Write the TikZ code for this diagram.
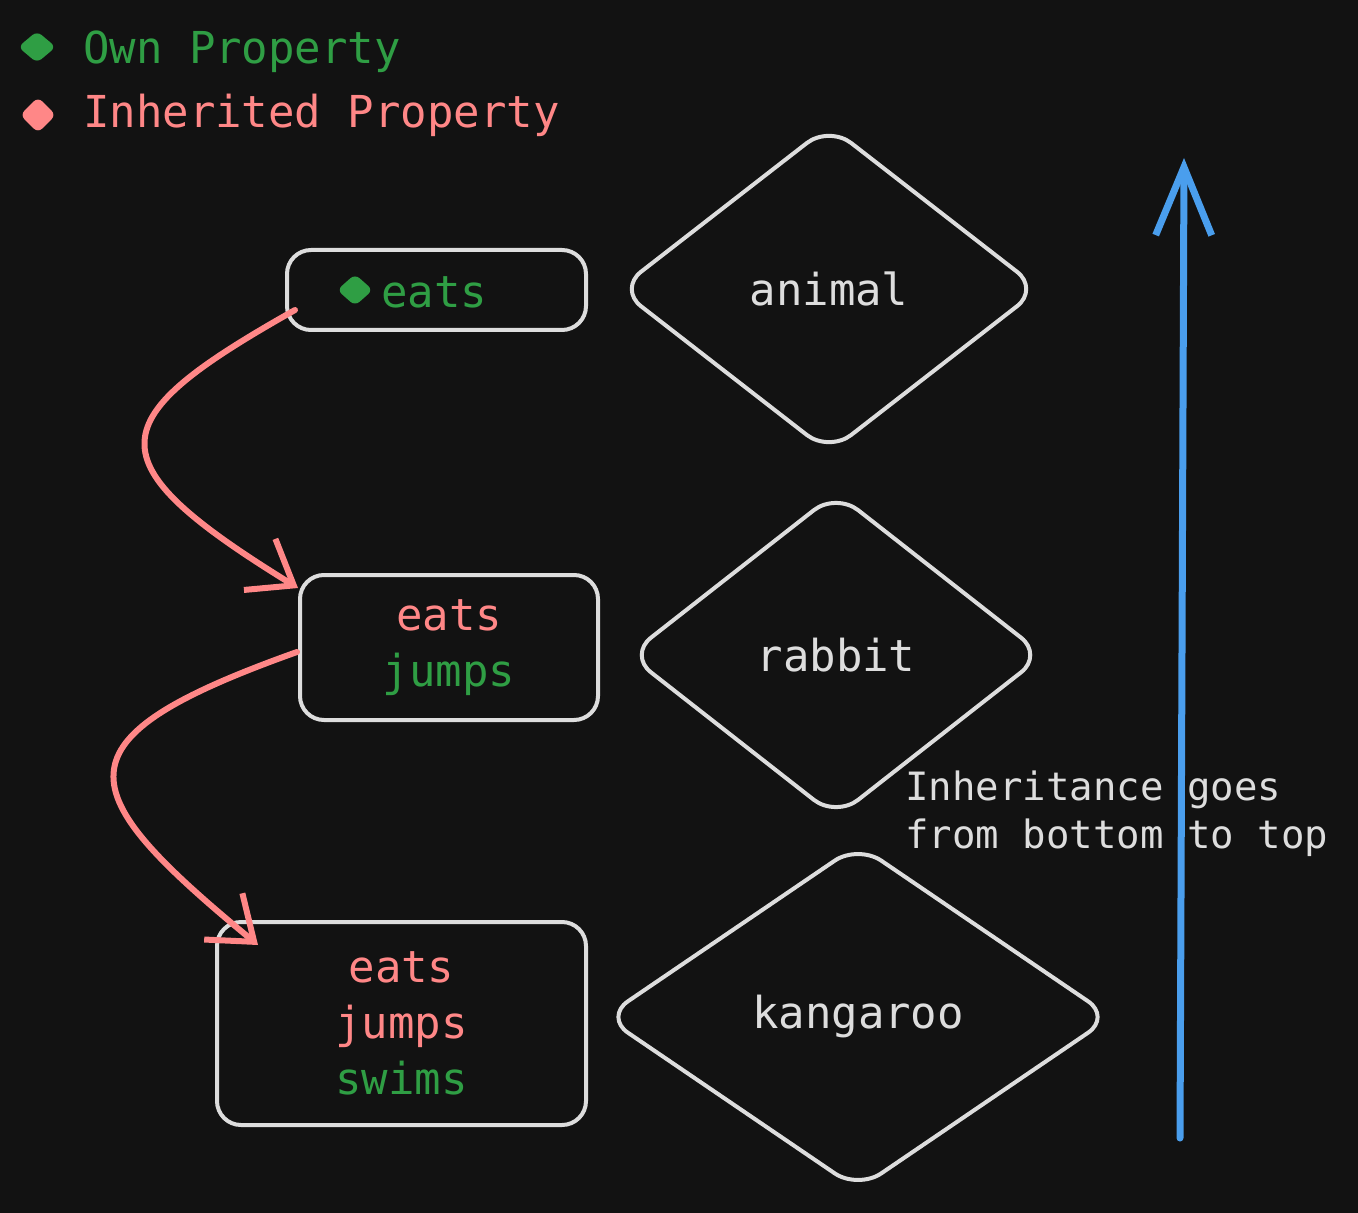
\documentclass[tikz,border=0pt]{standalone}
\usepackage{fontspec}
\setmonofont{DejaVu Sans Mono}
\usetikzlibrary{shapes.geometric,arrows.meta}
\definecolor{bg}{HTML}{121212}
\definecolor{ink}{HTML}{DDDDDD}
\definecolor{own}{HTML}{2F9E44}
\definecolor{inh}{HTML}{FF8787}
\definecolor{blu}{HTML}{4A9EED}
\tikzset{
 box/.style={draw=ink,line width=2pt,rounded corners=12pt,inner sep=0pt,font=\ttfamily\fontsize{22}{28}\selectfont,align=center},
 dia/.style={diamond,draw=ink,line width=2pt,rounded corners=14pt,inner sep=0pt,font=\ttfamily\fontsize{22}{26}\selectfont,text=ink},
 inharr/.style={draw=inh,line width=3pt,line cap=round,-{Straight Barb[length=20pt,width=30pt,line width=3pt]}},
}
\begin{document}
\begin{tikzpicture}[x=0.5pt,y=-0.5pt]
\fill[bg] (0,0) rectangle (1358,1213);
\useasboundingbox (0,0) rectangle (1358,1213);
% legend
\node[diamond,fill=own,rounded corners=3pt,minimum width=19pt,minimum height=16pt,inner sep=0pt] (lg1) at (37,47) {};
\node[anchor=west,text=own,font=\ttfamily\fontsize{22}{26}\selectfont] (lt1) at (76,52) {Own Property};
\node[diamond,fill=inh,rounded corners=3pt,minimum width=18pt,minimum height=18pt,inner sep=0pt] (lg2) at (38,115) {};
\node[anchor=west,text=inh,font=\ttfamily\fontsize{22}{26}\selectfont] (lt2) at (76,115) {Inherited Property};
% boxes
\node[box,minimum width=149.5pt,minimum height=40pt] (b1) at (436.5,290) {};
\node[diamond,fill=own,rounded corners=3pt,minimum width=18pt,minimum height=16pt,inner sep=0pt] (bd) at (355,290) {};
\node[text=own,font=\ttfamily\fontsize{22}{26}\selectfont,anchor=west] (t1) at (374,292) {eats};
\node[box,minimum width=149pt,minimum height=72.5pt] (b2) at (449,647.5) {\textcolor{inh}{eats}\\\textcolor{own}{jumps}};
\node[box,minimum width=184.5pt,minimum height=101.5pt] (b3) at (401.5,1023.5) {\textcolor{inh}{eats}\\\textcolor{inh}{jumps}\\\textcolor{own}{swims}};
% diamonds
\node[dia,minimum width=211pt,minimum height=164pt] (d1) at (829,289) {animal};
\node[dia,minimum width=208pt,minimum height=163pt] (d2) at (836,655) {rabbit};
\node[dia,minimum width=254pt,minimum height=173pt] (d3) at (858,1017) {kangaroo};
% inheritance arrows
\coordinate (s1) at (295,310);
\coordinate (e1) at (298,588);
\draw[inharr] (s1) .. controls (100,420) and (90,460) .. (e1);
\coordinate (s2) at (297,652);
\coordinate (e2) at (258,945);
\draw[inharr] (s2) .. controls (50,740) and (70,790) .. (e2);
% blue arrow
\coordinate (ba) at (1180,1138);
\coordinate (bb) at (1184,158);
\draw[blu,line width=3.5pt,line cap=round,-{Straight Barb[length=34pt,width=28pt,line width=3.5pt]}] (ba) -- (bb);
\node[anchor=north west,text=ink,align=left,font=\ttfamily\fontsize{19.5}{24}\selectfont,inner sep=1pt] (lab) at (903,768) {Inheritance goes\\from bottom to top};
\end{tikzpicture}
\end{document}
